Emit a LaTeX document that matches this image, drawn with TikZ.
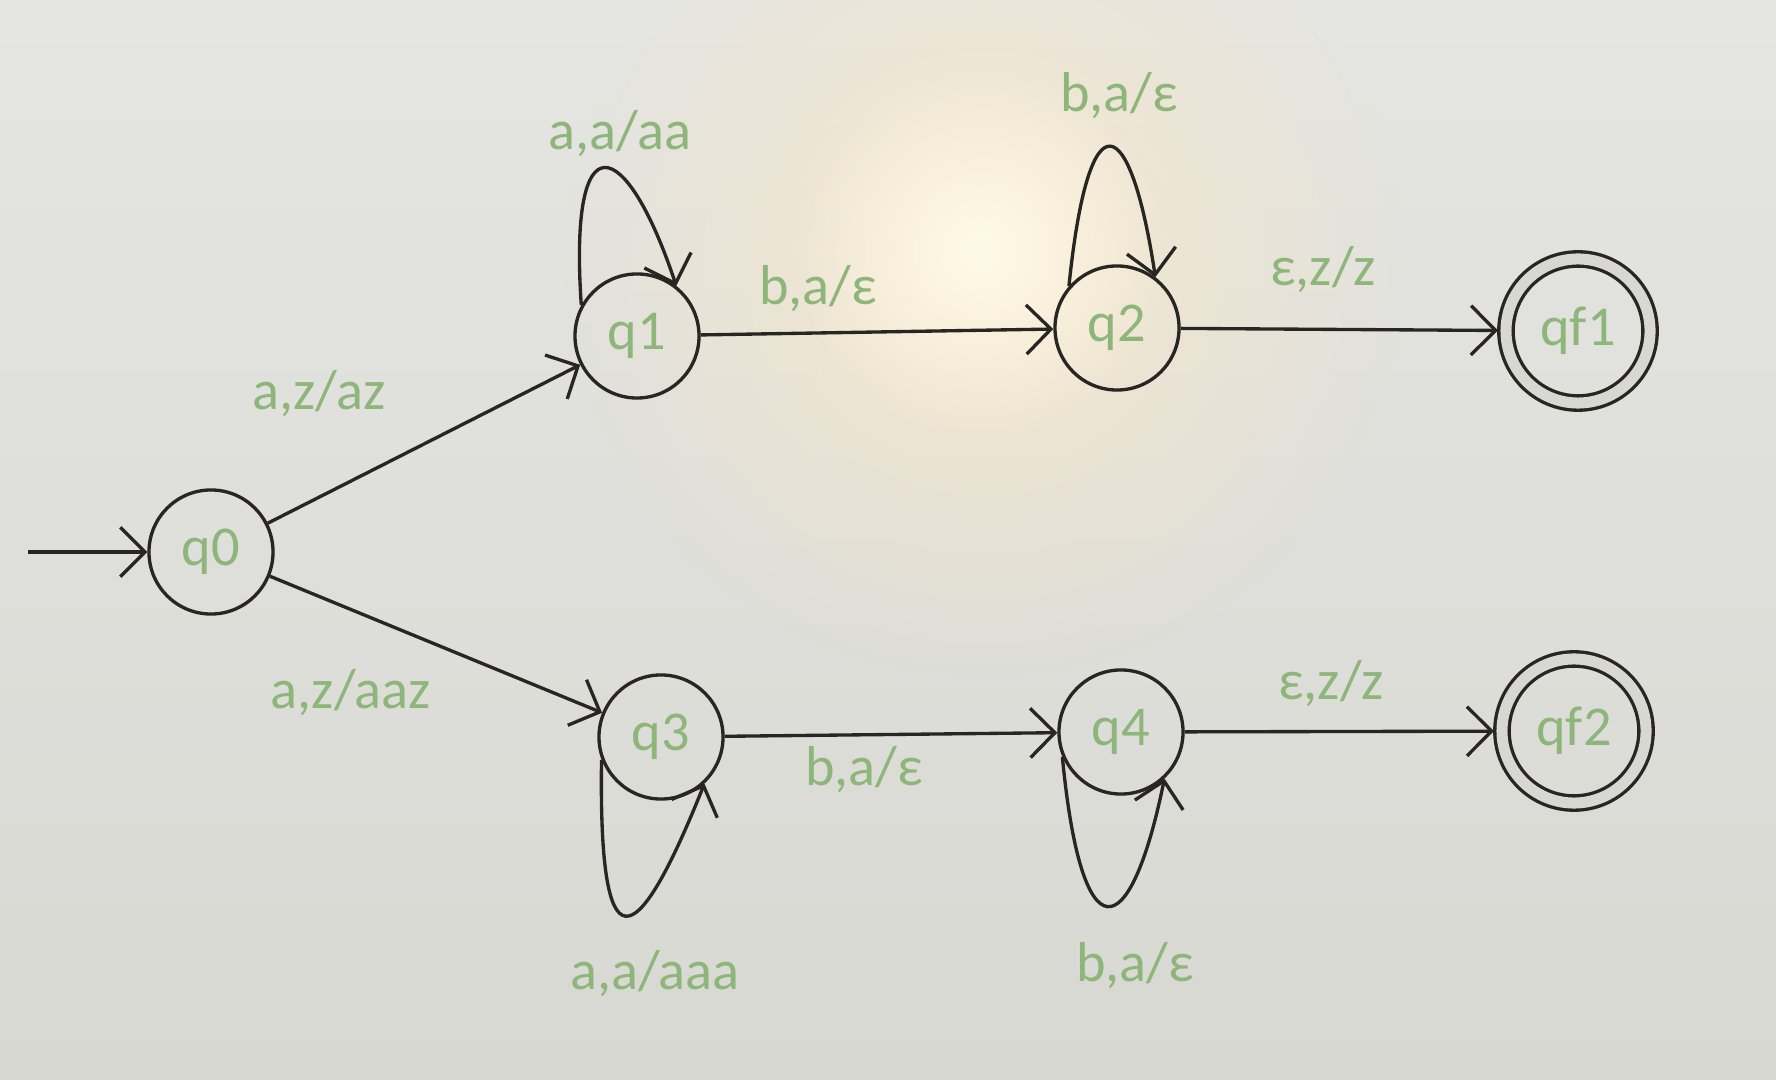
\documentclass[tikz,border=0pt]{standalone}
\usepackage{fontspec}
\setmainfont{Carlito}
\usetikzlibrary{arrows.meta,fadings}
\tikzfading[name=glowfade, inner color=transparent!0, outer color=transparent!100]
\definecolor{bgtop}{RGB}{229,229,226}
\definecolor{bggrey}{RGB}{216,216,211}
\definecolor{glare}{RGB}{246,232,204}
\definecolor{glarecore}{RGB}{255,250,232}
\definecolor{lblgreen}{RGB}{142,182,122}
\definecolor{inkgrey}{RGB}{40,38,34}
\begin{document}
\begin{tikzpicture}[x=0.01cm, y=-0.01cm,
  state/.style={shape=circle, draw=inkgrey, line width=0.95pt, minimum size=1.24cm, inner sep=0pt, text=lblgreen, font=\fontsize{16}{18}\selectfont},
  accept/.style={state, minimum size=1.44cm, double=bggrey, double distance=0.11cm, outer sep=0.08cm},
  lbl/.style={text=lblgreen, font=\fontsize{16}{18}\selectfont, inner sep=0pt},
  trans/.style={-{Straight Barb[length=7pt,width=14pt]}, line width=0.95pt, draw=inkgrey}]
\useasboundingbox (0,0) rectangle (1776,1080);
\shade[top color=bgtop, bottom color=bggrey] (0,0) rectangle (1776,1080);
\fill[glare, path fading=glowfade] (985,260) circle (420);
\fill[glarecore, path fading=glowfade] (980,250) circle (190);
% states
\node[state] (q0) at (211,552) {q0};
\node[state] (q1) at (637,336) {q1};
\node[state] (q2) at (1117,328) {q2};
\node[accept] (qf1) at (1578,331) {qf1};
\node[state] (q3) at (661,737) {q3};
\node[state] (q4) at (1121,732) {q4};
\node[accept] (qf2) at (1574,731) {qf2};
\coordinate (start) at (28,552);
% labels
\node[lbl] (l11) at (620,134) {a,a/aa};
\node[lbl] (l22) at (1119,96) {b,a/ε};
\node[lbl] (l12) at (818,289) {b,a/ε};
\node[lbl] (l2f) at (1323,270) {ε,z/z};
\node[lbl] (l01) at (319,394) {a,z/az};
\node[lbl] (l03) at (351,693) {a,z/aaz};
\node[lbl] (l34) at (864,770) {b,a/ε};
\node[lbl] (l4f) at (1331,684) {ε,z/z};
\node[lbl] (l33) at (655,974) {a,a/aaa};
\node[lbl] (l44) at (1135,966) {b,a/ε};
% transitions
\draw [trans] (start) -- (q0);
\draw [trans] (q0) -- (q1);
\draw [trans] (q0) -- (q3);
\draw [trans] (q1) -- (q2);
\draw [trans] (q2) -- (qf1);
\draw [trans] (q3) -- (q4);
\draw [trans] (q4) -- (qf2);
\draw [trans] (q1.151) .. controls +(-13,-190) and +(-50,-150) .. (q1.52);
\draw [trans] (q2.139) .. controls +(20,-195) and +(-25,-165) .. (q2.53);
\draw [trans] (q3.201) .. controls +(-3,209) and +(-70,175) .. (q3.313);
\draw [trans] (q4.203) .. controls +(19,199) and +(-35,170) .. (q4.313);
\end{tikzpicture}
\end{document}
